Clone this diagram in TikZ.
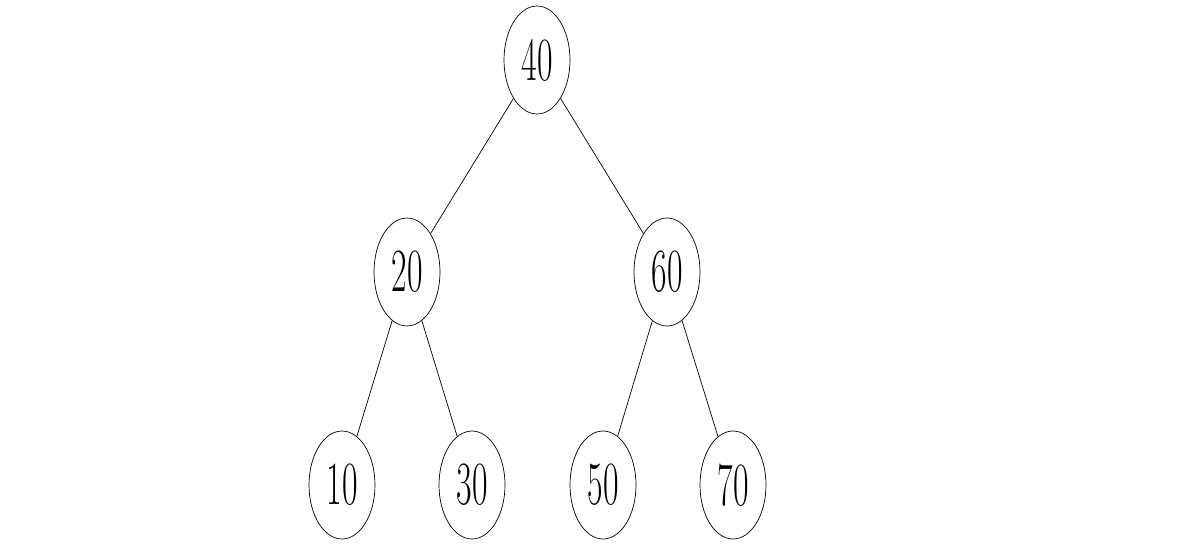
\documentclass[tikz,border=0pt]{standalone}
\usetikzlibrary{shapes.geometric}
\newcommand{\numtxt}[1]{\scalebox{0.55}[1]{\fontsize{35}{40}\selectfont #1}}
\begin{document}
\begin{tikzpicture}[x=0.02cm,y=-0.02cm,
  tnode/.style={draw,ellipse,minimum width=1.32cm,minimum height=2.16cm,inner sep=0pt}]
\useasboundingbox (0,0) rectangle (1190,558);
\node[tnode] (n40) at (537,60) {\numtxt{40}};
\node[tnode] (n20) at (407,272) {\numtxt{20}};
\node[tnode] (n60) at (667,272) {\numtxt{60}};
\node[tnode] (n10) at (342,485) {\numtxt{10}};
\node[tnode] (n30) at (472,485) {\numtxt{30}};
\node[tnode] (n50) at (603,485) {\numtxt{50}};
\node[tnode] (n70) at (733,485) {\numtxt{70}};
\draw (n40) -- (n20);
\draw (n40) -- (n60);
\draw (n20) -- (n10);
\draw (n20) -- (n30);
\draw (n60) -- (n50);
\draw (n60) -- (n70);
\end{tikzpicture}
\end{document}
